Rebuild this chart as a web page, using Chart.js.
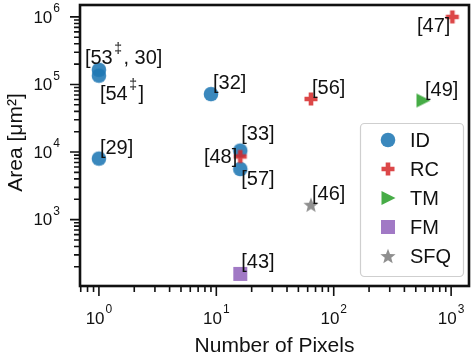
<!DOCTYPE html>
<html>
<head>
<meta charset="utf-8">
<script src="https://cdn.jsdelivr.net/npm/chart.js@4/dist/chart.umd.min.js"></script>
<style>
  html, body { margin: 0; padding: 0; background: #fff; }
  #wrap { width: 474px; height: 353px; }
</style>
</head>
<body>
<div id="wrap"><canvas id="pixelAreaChart" width="474" height="353"></canvas></div>
<script>
// values (log-log)
var categories = ['ID', 'RC', 'TM', 'FM', 'SFQ'];

var idPixels = [1, 1, 1, 9, 16, 16];
var idArea = [8000, 165000, 135000, 72000, 10500, 5600];
var idRefs = ['[29]', '[53‡, 30]', '[54‡]', '[32]', '[33]', '[57]'];

var rcPixels = [16, 64, 1024];
var rcArea = [8600, 61000, 1000000];
var rcRefs = ['[48]', '[56]', '[47]'];

var tmPixels = [576];
var tmArea = [58000];
var tmRefs = ['[49]'];

var fmPixels = [16];
var fmArea = [157];
var fmRefs = ['[43]'];

var sfqPixels = [64];
var sfqArea = [1660];
var sfqRefs = ['[46]'];

var xTickValues = [1, 10, 100, 1000];
var yTickValues = [1e3, 1e4, 1e5, 1e6];

// label placement relative to the point: [dx, dy, align]
var idRefPos = [[1, -10, 'left'], [-14, -11, 'left'], [1, 19, 'left'], [2, -11, 'left'], [1, -16, 'left'], [1, 10, 'left']];
var rcRefPos = [[-3, 1, 'right'], [1, -10, 'left'], [-2, 10, 'right']];
var tmRefPos = [[2, -10, 'left']];
var fmRefPos = [[1, -11, 'left']];
var sfqRefPos = [[1, -10, 'left']];

var FONT = '"Liberation Sans", Arial, Helvetica, sans-serif';

function toPoints(xs, ys) {
    return xs.map(function (x, i) { return { x: x, y: ys[i] }; });
}

// filled marker images, matplotlib-like
function makeMarker(shape, color) {
    var c = document.createElement('canvas');
    c.width = 18; c.height = 18;
    var g = c.getContext('2d');
    var m = 9;
    g.fillStyle = color;
    g.beginPath();
    if (shape === 'circle') {
        g.arc(m, m, 7.3, 0, Math.PI * 2);
    } else if (shape === 'plus') {
        g.rect(m - 6.5, m - 2.3, 13, 4.6);
        g.rect(m - 2.3, m - 6.5, 4.6, 13);
    } else if (shape === 'tri') {
        g.moveTo(m - 6.5, m - 7);
        g.lineTo(m + 7.5, m);
        g.lineTo(m - 6.5, m + 7);
        g.closePath();
    } else if (shape === 'square') {
        g.rect(m - 7, m - 7, 14, 14);
    } else if (shape === 'star') {
        for (var i = 0; i < 10; i++) {
            var r = i % 2 === 0 ? 8 : 3.4;
            var a = -Math.PI / 2 + i * Math.PI / 5;
            var px = m + r * Math.cos(a), py = m + 0.8 + r * Math.sin(a);
            if (i === 0) g.moveTo(px, py); else g.lineTo(px, py);
        }
        g.closePath();
    }
    g.fill();
    return c;
}

var markers = [
    makeMarker('circle', 'rgba(31,119,180,0.88)'),
    makeMarker('plus', 'rgba(214,39,40,0.85)'),
    makeMarker('tri', 'rgba(44,160,44,0.88)'),
    makeMarker('square', 'rgba(148,103,189,0.88)'),
    makeMarker('star', 'rgba(127,127,127,0.88)')
];

function drawPow(ctx, exp, x, y, align) {
    ctx.font = '17px ' + FONT;
    var w1 = ctx.measureText('10').width;
    ctx.font = '12px ' + FONT;
    var w2 = ctx.measureText(String(exp)).width;
    var x0 = align === 'center' ? x - (w1 + w2 + 1) / 2 : x - (w1 + w2 + 1);
    ctx.textAlign = 'left';
    ctx.textBaseline = 'middle';
    ctx.font = '17px ' + FONT;
    ctx.fillText('10', x0, y);
    ctx.font = '12px ' + FONT;
    ctx.fillText(String(exp), x0 + w1 + 1, y - 9);
}

function drawRef(ctx, text, x, y, align) {
    var parts = text.split('‡');
    var segs = [];
    parts.forEach(function (p, i) {
        if (p) segs.push({ t: p, sup: false });
        if (i < parts.length - 1) segs.push({ t: '‡', sup: true });
    });
    var total = 0;
    segs.forEach(function (s) {
        ctx.font = (s.sup ? '14px ' : '20px ') + FONT;
        s.w = ctx.measureText(s.t).width + (s.sup ? 3 : 0);
        total += s.w;
    });
    var cx = align === 'right' ? x - total : x;
    ctx.textAlign = 'left';
    ctx.textBaseline = 'middle';
    segs.forEach(function (s) {
        ctx.font = (s.sup ? '14px ' : '20px ') + FONT;
        ctx.fillText(s.t, s.sup ? cx + 1.5 : cx, s.sup ? y - 10 : y);
        cx += s.w;
    });
}

function minorValues(min, max) {
    var out = [];
    for (var e = Math.floor(Math.log10(min)); e <= Math.ceil(Math.log10(max)); e++) {
        for (var k = 2; k <= 9; k++) {
            var v = k * Math.pow(10, e);
            if (v >= min && v <= max) out.push(v);
        }
    }
    return out;
}

var decorPlugin = {
    id: 'decor',
    afterDraw: function (chart) {
        var ctx = chart.ctx, a = chart.chartArea;
        var xs = chart.scales.x, ys = chart.scales.y;
        ctx.save();
        ctx.fillStyle = '#111';
        ctx.strokeStyle = '#111';

        // reference labels
        chart.data.datasets.forEach(function (ds, di) {
            var meta = chart.getDatasetMeta(di);
            meta.data.forEach(function (el, i) {
                var p = ds.refPos[i];
                drawRef(ctx, ds.refs[i], el.x + p[0], el.y + p[1], p[2]);
            });
        });

        // ticks
        ctx.lineWidth = 1.6;
        ctx.beginPath();
        xTickValues.forEach(function (v) {
            var px = xs.getPixelForValue(v);
            ctx.moveTo(px, a.bottom); ctx.lineTo(px, a.bottom + 10);
        });
        minorValues(xs.min, xs.max).forEach(function (v) {
            var px = xs.getPixelForValue(v);
            ctx.moveTo(px, a.bottom); ctx.lineTo(px, a.bottom + 6);
        });
        yTickValues.forEach(function (v) {
            var py = ys.getPixelForValue(v);
            ctx.moveTo(a.left, py); ctx.lineTo(a.left - 10, py);
        });
        minorValues(ys.min, ys.max).forEach(function (v) {
            var py = ys.getPixelForValue(v);
            ctx.moveTo(a.left, py); ctx.lineTo(a.left - 6, py);
        });
        ctx.stroke();

        // frame
        ctx.lineWidth = 2.6;
        ctx.strokeRect(a.left, a.top, a.right - a.left, a.bottom - a.top);

        // tick labels
        xTickValues.forEach(function (v) {
            drawPow(ctx, Math.round(Math.log10(v)), xs.getPixelForValue(v), a.bottom + 33, 'center');
        });
        yTickValues.forEach(function (v) {
            drawPow(ctx, Math.round(Math.log10(v)), a.left - 20, ys.getPixelForValue(v) + 1, 'right');
        });

        // axis titles
        ctx.font = '21px ' + FONT;
        ctx.textAlign = 'center';
        ctx.textBaseline = 'alphabetic';
        ctx.fillText('Number of Pixels', (a.left + a.right) / 2, 352);
        ctx.save();
        ctx.translate(22, (a.top + a.bottom) / 2 - 3);
        ctx.rotate(-Math.PI / 2);
        ctx.fillText('Area [μm²]', 0, 0);
        ctx.restore();

        // legend
        var lx = 360.5, ly = 123.5, lw = 103, lh = 153;
        ctx.beginPath();
        ctx.roundRect(lx, ly, lw, lh, 4);
        ctx.fillStyle = 'rgba(255,255,255,0.85)';
        ctx.fill();
        ctx.strokeStyle = '#cfcfcf';
        ctx.lineWidth = 1.2;
        ctx.stroke();
        ctx.fillStyle = '#111';
        ctx.font = '20px ' + FONT;
        ctx.textAlign = 'left';
        ctx.textBaseline = 'middle';
        categories.forEach(function (name, i) {
            var yy = 140 + i * 29;
            var img = markers[i];
            ctx.drawImage(img, 388 - img.width / 2, yy - img.height / 2);
            ctx.fillText(name, 410, yy + 1);
        });
        ctx.restore();
    }
};

var ctx = document.getElementById('pixelAreaChart').getContext('2d');
var pixelAreaChart = new Chart(ctx, {
    type: 'scatter',
    data: {
        datasets: [
            { label: categories[0], data: toPoints(idPixels, idArea), refs: idRefs, refPos: idRefPos, pointStyle: markers[0], order: 3 },
            { label: categories[1], data: toPoints(rcPixels, rcArea), refs: rcRefs, refPos: rcRefPos, pointStyle: markers[1], order: 1 },
            { label: categories[2], data: toPoints(tmPixels, tmArea), refs: tmRefs, refPos: tmRefPos, pointStyle: markers[2], order: 1 },
            { label: categories[3], data: toPoints(fmPixels, fmArea), refs: fmRefs, refPos: fmRefPos, pointStyle: markers[3], order: 1 },
            { label: categories[4], data: toPoints(sfqPixels, sfqArea), refs: sfqRefs, refPos: sfqRefPos, pointStyle: markers[4], order: 1 }
        ]
    },
    options: {
        responsive: false,
        animation: false,
        devicePixelRatio: 1,
        layout: { padding: { left: 80, top: 2, right: 3, bottom: 67 } },
        plugins: { legend: { display: false }, tooltip: { enabled: false } },
        scales: {
            x: { type: 'logarithmic', min: 0.69, max: 1420, display: false },
            y: { type: 'logarithmic', min: 104, max: 1.5e6, display: false }
        }
    },
    plugins: [decorPlugin]
});
</script>
</body>
</html>
